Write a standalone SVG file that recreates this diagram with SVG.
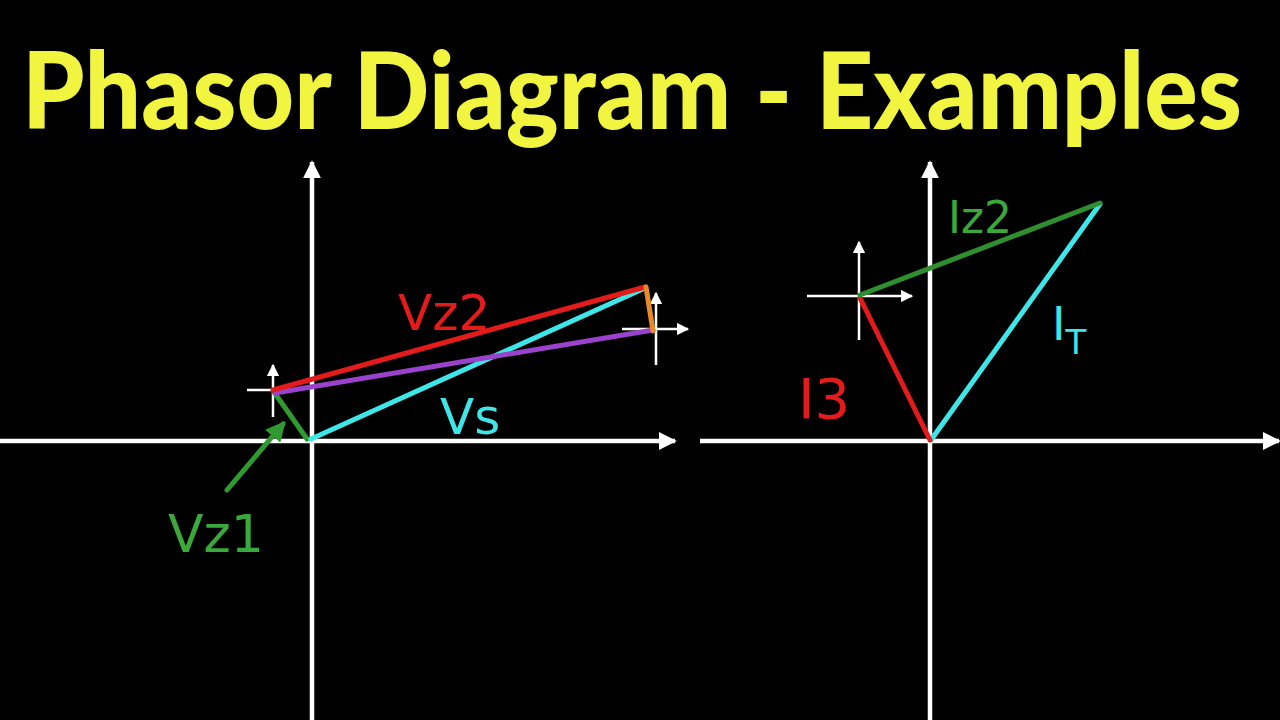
<svg xmlns="http://www.w3.org/2000/svg" width="1280" height="720" viewBox="0 0 1280 720">
<defs>
<style>
.ax{stroke:#ffffff;stroke-width:4.5;fill:none}
.sax{stroke:#ffffff;stroke-width:2.5;fill:none}
.ph{stroke-width:5;fill:none;stroke-linecap:round}
.lbl{font-family:"DejaVu Sans","Liberation Sans",sans-serif;font-weight:normal}
</style>
<marker id="wa" viewBox="0 0 10 10" refX="9" refY="5" markerWidth="4" markerHeight="4" orient="auto" markerUnits="strokeWidth"><path d="M0,0 L10,5 L0,10 z" fill="#ffffff"/></marker>
<marker id="wsa" viewBox="0 0 10 10" refX="9" refY="5" markerWidth="5" markerHeight="5" orient="auto" markerUnits="strokeWidth"><path d="M0,0 L10,5 L0,10 z" fill="#ffffff"/></marker>
<marker id="ga" viewBox="0 0 10 10" refX="8" refY="5" markerWidth="4" markerHeight="4" orient="auto" markerUnits="strokeWidth"><path d="M0,0 L10,5 L0,10 z" fill="#2f9a2f"/></marker>
</defs>
<rect x="0" y="0" width="1280" height="720" fill="#000000"/>
<g id="title">
<text x="22" y="129" font-family="Lato, 'Liberation Sans', Arial, sans-serif" font-weight="900" font-size="107" fill="#f1f540" textLength="1220" lengthAdjust="spacingAndGlyphs">Phasor Diagram - Examples</text>
</g>
<g id="left-axes">
<line class="ax" x1="0" y1="441" x2="675" y2="441" marker-end="url(#wa)"/>
<line class="ax" x1="312" y1="720" x2="312" y2="162" marker-end="url(#wa)"/>
</g>
<g id="right-axes">
<line class="ax" x1="700" y1="441" x2="1279" y2="441" marker-end="url(#wa)"/>
<line class="ax" x1="930" y1="720" x2="930" y2="162" marker-end="url(#wa)"/>
</g>
<g id="small-axes">
<line class="sax" x1="247" y1="390" x2="292" y2="390"/>
<line class="sax" x1="273" y1="417" x2="273" y2="365" marker-end="url(#wsa)"/>
<line class="sax" x1="622" y1="329" x2="688" y2="329" marker-end="url(#wsa)"/>
<line class="sax" x1="656" y1="365" x2="656" y2="293" marker-end="url(#wsa)"/>
<line class="sax" x1="807" y1="296" x2="912" y2="296" marker-end="url(#wsa)"/>
<line class="sax" x1="859" y1="340" x2="859" y2="242" marker-end="url(#wsa)"/>
</g>
<g id="connectors">
<line class="ph" stroke="#2f9a2f" x1="274" y1="392" x2="307" y2="439"/>
<line class="ph" stroke="#3ee6e8" x1="311" y1="439" x2="645" y2="288"/>
<line class="ph" stroke="#9a42cc" x1="275" y1="393" x2="653" y2="330"/>
<line class="ph" stroke="#e41b1b" x1="273" y1="390" x2="645" y2="287"/>
<line class="ph" stroke="#e8892c" x1="646" y1="287" x2="653" y2="331"/>
<line class="ph" stroke="#2f9a2f" x1="227" y1="490" x2="283" y2="424" marker-end="url(#ga)"/>
<line class="ph" stroke="#3ee6e8" x1="931" y1="440" x2="1100" y2="204"/>
<line class="ph" stroke="#e41b1b" x1="930" y1="440" x2="860" y2="298"/>
<line class="ph" stroke="#2f8f2f" x1="860" y1="295" x2="1100" y2="203"/>
</g>
<g id="labels">
<text class="lbl" x="398" y="330" font-size="50" fill="#e41b1b">Vz2</text>
<text class="lbl" x="440" y="434" font-size="50" fill="#3ee6e8">Vs</text>
<text class="lbl" x="168" y="552" font-size="52" fill="#3aa83a">Vz1</text>
<text class="lbl" x="948" y="233" font-size="44" fill="#3aa83a">Iz2</text>
<text class="lbl" x="798" y="418" font-size="56" fill="#e41b1b">I3</text>
<text class="lbl" x="1052" y="340" font-size="46" fill="#3ee6e8">I<tspan font-size="34" dy="14">T</tspan></text>
</g>
</svg>
